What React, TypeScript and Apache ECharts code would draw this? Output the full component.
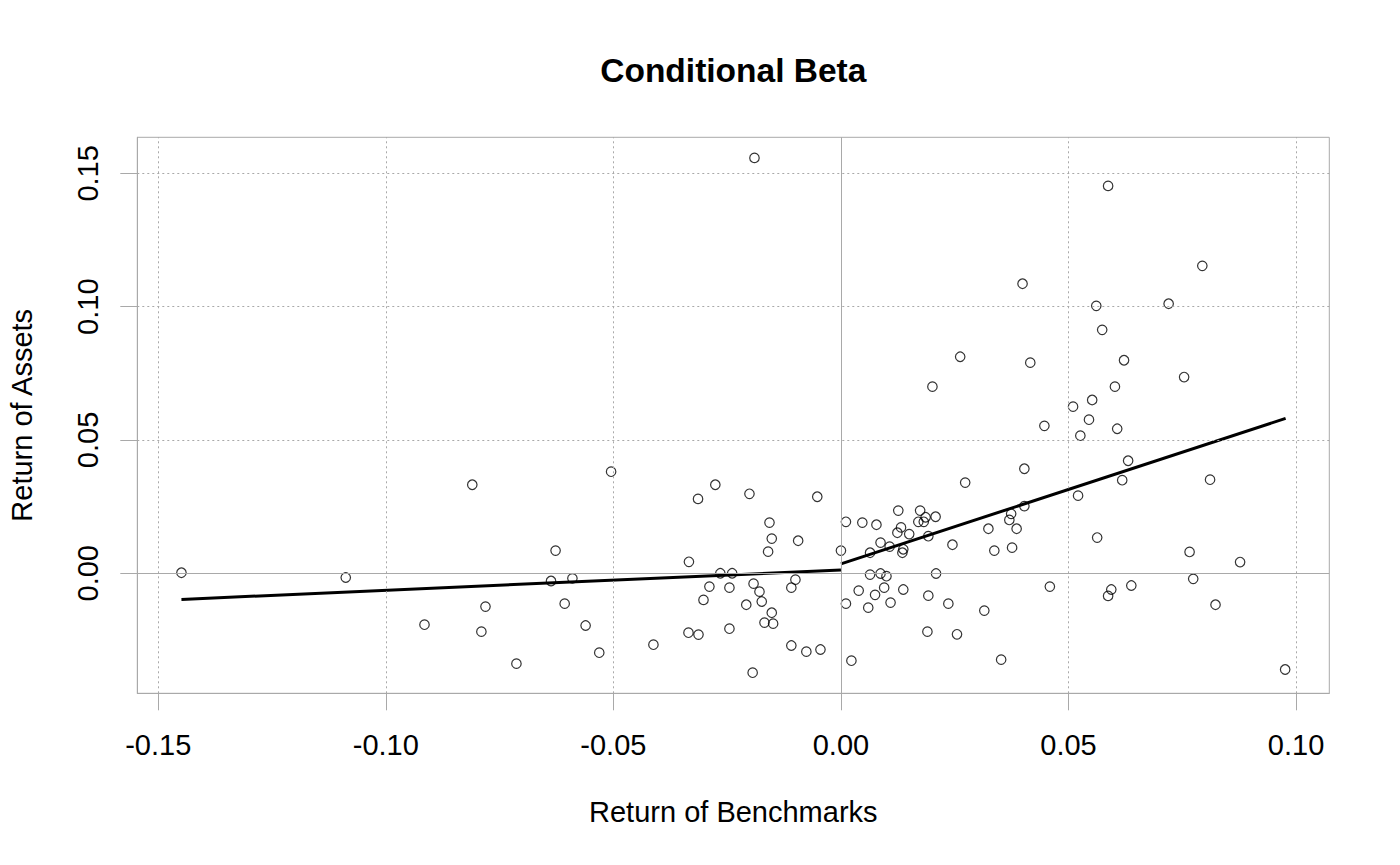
import * as echarts from 'echarts';
import { useEffect, useRef } from 'react';

// values
const benchmarkReturns = [
    -0.1449, -0.1088, -0.0781, -0.0915, -0.0790, -0.0810, -0.0190,
    -0.0505, -0.0276, -0.0314, -0.0201, -0.0052, -0.0157, -0.0152, -0.0160, -0.0094,
    0.0011, 0.0000, -0.0627, -0.0334, -0.0637, -0.0590, -0.0265, -0.0239, -0.0289,
    -0.0245, -0.0192, -0.0179, -0.0100, -0.0109, -0.0607, -0.0302, -0.0208, -0.0174,
    -0.0152, -0.0168, -0.0149, -0.0245, -0.0561, -0.0335, -0.0313, -0.0412, -0.0531,
    -0.0713, -0.0109, -0.0076, -0.0045, -0.0194, 0.0011, 0.0023,
    0.0273, 0.0521, 0.0126, 0.0174, 0.0047, 0.0078, 0.0186, 0.0170, 0.0182, 0.0208,
    0.0132, 0.0124, 0.0150, 0.0192, 0.0087, 0.0107, 0.0137, 0.0135, 0.0064, 0.0245,
    0.0324, 0.0370, 0.0374, 0.0386, 0.0403, 0.0337, 0.0376, 0.0064, 0.0087, 0.0100,
    0.0209, 0.0039, 0.0095, 0.0137, 0.0075, 0.0060, 0.0109, 0.0192, 0.0236, 0.0315,
    0.0459, 0.0190, 0.0255, 0.0352,
    0.0510, 0.0552, 0.0447, 0.0545, 0.0526, 0.0607, 0.0631, 0.0618, 0.0811, 0.0563,
    0.0766, 0.0877, 0.0594, 0.0587, 0.0638, 0.0774, 0.0823, 0.0976,
    0.0587, 0.0794, 0.0399, 0.0561, 0.0720, 0.0574, 0.0262, 0.0416, 0.0622, 0.0754,
    0.0201, 0.0602, 0.0403,
];

const assetReturns = [
    0.0002, -0.0016, -0.0125, -0.0193, -0.0219, 0.0332, 0.1558,
    0.0381, 0.0332, 0.0279, 0.0298, 0.0287, 0.0190, 0.0130, 0.0081, 0.0122,
    0.0193, 0.0085, 0.0085, 0.0043, -0.0029, -0.0019, 0.0000, 0.0000, -0.0050,
    -0.0054, -0.0039, -0.0069, -0.0024, -0.0054, -0.0114, -0.0100, -0.0118, -0.0106,
    -0.0148, -0.0185, -0.0189, -0.0208, -0.0196, -0.0223, -0.0230, -0.0268, -0.0298,
    -0.0339, -0.0271, -0.0294, -0.0286, -0.0373, -0.0114, -0.0328,
    0.0340, 0.0291, 0.0235, 0.0235, 0.0190, 0.0182, 0.0210, 0.0193, 0.0193, 0.0212,
    0.0172, 0.0152, 0.0147, 0.0139, 0.0115, 0.0100, 0.0090, 0.0077, 0.0077, 0.0107,
    0.0167, 0.0200, 0.0223, 0.0167, 0.0252, 0.0085, 0.0096, -0.0005, -0.0001, -0.0011,
    -0.0001, -0.0065, -0.0054, -0.0061, -0.0081, -0.0129, -0.0110, -0.0084, -0.0114, -0.0140,
    -0.0050, -0.0219, -0.0229, -0.0324,
    0.0625, 0.0650, 0.0553, 0.0576, 0.0516, 0.0542, 0.0422, 0.0349, 0.0351, 0.0134,
    0.0080, 0.0042, -0.0061, -0.0085, -0.0046, -0.0021, -0.0118, -0.0361,
    0.1453, 0.1153, 0.1086, 0.1003, 0.1011, 0.0913, 0.0812, 0.0790, 0.0799, 0.0736,
    0.0700, 0.0700, 0.0392,
];

// fitted beta below and above zero benchmark return
const lowerBetaLine = [[-0.1449, -0.0098], [0, 0.0012]];
const upperBetaLine = [[0, 0.0035], [0.0977, 0.0581]];

const xTicks = [-0.15, -0.1, -0.05, 0, 0.05, 0.1];
const yTicks = [0, 0.05, 0.1, 0.15];

const FONT = 'Liberation Sans, Arial, sans-serif';
const GRAY = '#a9a9a9';

// R style axis range: data range plus 4% on each side
const padRange = (vals: number[]) => {
    const lo = Math.min(...vals);
    const hi = Math.max(...vals);
    const pad = (hi - lo) * 0.04;
    return [lo - pad, hi + pad];
};

const ConditionalBeta = () => {
    const chartRef = useRef(null);

    useEffect(() => {
        document.body.style.margin = '0';
        const chart = echarts.init(chartRef.current, null, { renderer: 'svg' });

        const [xMin, xMax] = padRange(benchmarkReturns);
        const [yMin, yMax] = padRange(assetReturns);

        const dotted = { color: GRAY, width: 1, type: [2, 3] };
        const solid = { color: GRAY, width: 1, type: 'solid' };
        const gridLines = [
            ...xTicks.map((v) => ({ xAxis: v, lineStyle: v === 0 ? solid : dotted })),
            ...yTicks.map((v) => ({ yAxis: v, lineStyle: v === 0 ? solid : dotted })),
        ];

        const axisCommon = {
            type: 'value',
            axisLine: { show: true, onZero: false, lineStyle: { color: GRAY, width: 1 } },
            splitLine: { show: false },
        };

        const option = {
            animation: false,
            backgroundColor: '#fff',
            grid: {
                left: 137.3,
                right: 70.7,
                top: 137.3,
                bottom: 171.7,
                show: true,
                borderColor: GRAY,
                borderWidth: 1,
            },
            xAxis: {
                ...axisCommon,
                min: xMin,
                max: xMax,
                axisTick: { show: true, length: 17, customValues: xTicks, lineStyle: { color: GRAY } },
                axisLabel: {
                    customValues: xTicks,
                    formatter: (v: number) => v.toFixed(2),
                    color: '#000',
                    fontSize: 29,
                    fontFamily: FONT,
                    margin: 37,
                },
            },
            yAxis: {
                ...axisCommon,
                min: yMin,
                max: yMax,
                axisTick: { show: true, length: 17, customValues: yTicks, lineStyle: { color: GRAY } },
                axisLabel: {
                    customValues: yTicks,
                    formatter: (v: number) => v.toFixed(2),
                    rotate: 90,
                    color: '#000',
                    fontSize: 29,
                    fontFamily: FONT,
                    margin: 35,
                },
            },
            graphic: [
                {
                    type: 'text',
                    x: 733.3,
                    y: 70,
                    style: {
                        text: 'Conditional Beta',
                        fontSize: 33.5,
                        fontWeight: 'bold',
                        fontFamily: FONT,
                        fill: '#000',
                        textAlign: 'center',
                        textVerticalAlign: 'middle',
                    },
                },
                {
                    type: 'text',
                    x: 733.3,
                    y: 812,
                    style: {
                        text: 'Return of Benchmarks',
                        fontSize: 29,
                        fontFamily: FONT,
                        fill: '#000',
                        textAlign: 'center',
                        textVerticalAlign: 'middle',
                    },
                },
                {
                    type: 'text',
                    x: 22,
                    y: 415.3,
                    rotation: Math.PI / 2,
                    style: {
                        text: 'Return of Assets',
                        fontSize: 29,
                        fontFamily: FONT,
                        fill: '#000',
                        textAlign: 'center',
                        textVerticalAlign: 'middle',
                    },
                },
            ],
            series: [
                {
                    type: 'line',
                    data: [],
                    z: 1,
                    silent: true,
                    markLine: {
                        silent: true,
                        symbol: 'none',
                        animation: false,
                        label: { show: false },
                        data: gridLines,
                    },
                },
                {
                    type: 'scatter',
                    z: 2,
                    data: benchmarkReturns.map((x, i) => [x, assetReturns[i]]),
                    symbol: 'circle',
                    symbolSize: 9.5,
                    itemStyle: { color: 'transparent', borderColor: '#000', borderWidth: 1.2 },
                },
                {
                    type: 'line',
                    z: 3,
                    data: lowerBetaLine,
                    symbol: 'none',
                    lineStyle: { color: '#000', width: 3 },
                },
                {
                    type: 'line',
                    z: 3,
                    data: upperBetaLine,
                    symbol: 'none',
                    lineStyle: { color: '#000', width: 3 },
                },
            ],
        };

        chart.setOption(option);

        return () => {
            chart.dispose();
        };
    }, []);

    return <div ref={chartRef} style={{ width: '1400px', height: '865px' }} />;
};

export default function App() {
    return <ConditionalBeta />;
}
